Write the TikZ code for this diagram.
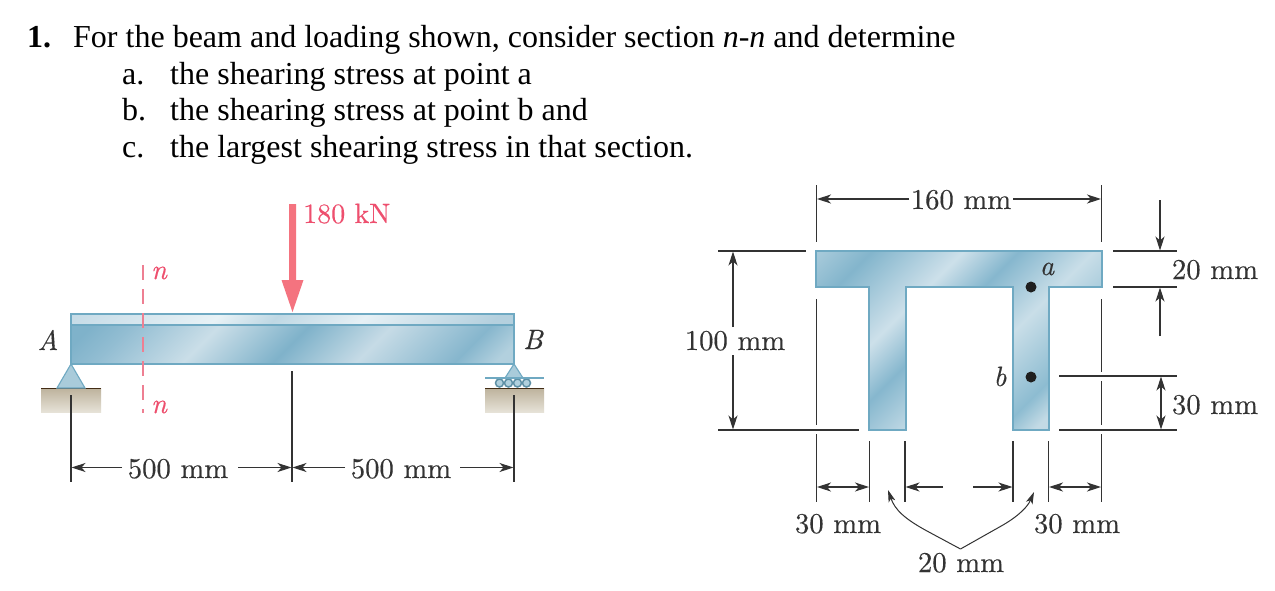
\documentclass[tikz,border=0pt]{standalone}
\usepackage{fontspec}
\usetikzlibrary{arrows.meta}
\newfontfamily\probfont{Liberation Serif}
\newfontfamily\dimfont[Extension=.otf,UprightFont=lmroman10-regular,ItalicFont=lmroman10-italic,FakeBold=0.3]{lmroman10-regular}
\definecolor{inkc}{HTML}{333333}
\definecolor{edgec}{HTML}{6FA9C2}
\definecolor{redc}{HTML}{F4737F}
\definecolor{redt}{HTML}{EE4F6E}
\definecolor{pinkc}{HTML}{EE7F92}
\definecolor{sa}{HTML}{7FB2CA}\definecolor{sb}{HTML}{92BDD2}\definecolor{sc}{HTML}{CADEE8}\definecolor{sd}{HTML}{C6DBE6}\definecolor{se}{HTML}{86B6CD}\definecolor{sf}{HTML}{B2D0DE}
\definecolor{ta}{HTML}{C2D9E5}\definecolor{tb}{HTML}{E8F2F6}\definecolor{tc}{HTML}{BFD8E4}\definecolor{td}{HTML}{E6F0F5}\definecolor{te}{HTML}{B4D0DE}
\definecolor{ua}{HTML}{A9CBDB}\definecolor{ub}{HTML}{83B5CC}\definecolor{uc}{HTML}{CDE0EA}\definecolor{ud}{HTML}{86B7CE}\definecolor{ue}{HTML}{C9DEE8}\definecolor{uf}{HTML}{8DBCD1}\definecolor{ug}{HTML}{C3DAE5}
\definecolor{ga}{HTML}{E6E2D7}\definecolor{gb}{HTML}{BDB29C}
\pgfdeclarehorizontalshading{steelbeam}{100bp}{color(0bp)=(sa);color(34.8bp)=(sa);color(37.6bp)=(sb);color(43.9bp)=(sc);color(50.3bp)=(sa);color(56.2bp)=(sd);color(63.2bp)=(se);color(66.1bp)=(sf);color(100bp)=(sf)}
\pgfdeclarehorizontalshading{steelstrip}{100bp}{color(0bp)=(ta);color(33bp)=(ta);color(44.5bp)=(tb);color(48.7bp)=(tc);color(55bp)=(td);color(64.4bp)=(te);color(100bp)=(te)}
\pgfdeclarehorizontalshading{steeltee}{100bp}{color(0bp)=(ua);color(27.8bp)=(ua);color(33.6bp)=(ub);color(43.2bp)=(uc);color(49bp)=(ud);color(56.8bp)=(ue);color(65.7bp)=(uf);color(69.2bp)=(ug);color(100bp)=(ug)}
\pgfdeclareverticalshading{groundsh}{100bp}{color(0bp)=(ga);color(25bp)=(ga);color(75bp)=(gb);color(100bp)=(gb)}
\tikzset{
  x=1pt,y=-1pt,
  prob/.style={inner sep=0pt,anchor=base west,font=\probfont\fontsize{32}{38}\selectfont,text=black},
  dimtext/.style={inner sep=0pt,anchor=base,font=\dimfont\fontsize{28.7}{34}\selectfont,text=inkc},
  pointlabel/.style={inner sep=0pt,anchor=base,font=\dimfont\itshape\fontsize{28}{34}\selectfont,text=inkc},
  sectlabel/.style={inner sep=0pt,anchor=base,font=\dimfont\itshape\fontsize{28}{34}\selectfont,text=redt},
  ext/.style={draw=inkc,line width=1.1pt},
  dimone/.style={draw=inkc,line width=1.1pt,-{Stealth[length=14pt,width=9pt,inset=4pt]}},
  dimtwo/.style={draw=inkc,line width=1.1pt,{Stealth[length=14pt,width=9pt,inset=4pt]}-{Stealth[length=14pt,width=9pt,inset=4pt]}},
  curvearrow/.style={draw=inkc,line width=1pt,-{Stealth[length=12pt,width=7pt,inset=3pt]}},
  outline/.style={draw=edgec,line width=1.2pt},
  ground/.style={shading=groundsh},
  pin/.style={fill=edgec!60!white,draw=edgec,line width=1.1pt},
  roller/.style={fill=edgec!55!white,draw=edgec!85!black,line width=1.5pt},
  dot/.style={circle,fill=black!88,inner sep=0pt,minimum size=11pt},
}
\begin{document}
\begin{tikzpicture}
\useasboundingbox (0,0) rectangle (1275,590);
\fill[white] (0,0) rectangle (1275,590);
% problem text
\node[prob,font=\probfont\bfseries\fontsize{32}{38}\selectfont] (q1) at (27,47) {1.};
\node[prob] (q0) at (73,47) {For the beam and loading shown, consider section \textit{n-n} and determine};
\node[prob] (qal) at (122,84) {a.};
\node[prob] (qa) at (170,84) {the shearing stress at point a};
\node[prob] (qbl) at (122,120) {b.};
\node[prob] (qb) at (170,120) {the shearing stress at point b and};
\node[prob] (qcl) at (122,157) {c.};
\node[prob] (qc) at (170,157) {the largest shearing stress in that section.};
% grounds
\shade[ground] (41,388) rectangle (101,412);
\draw[draw=black!65!brown,line width=1pt] (41,388) -- (101,388);
\shade[ground] (485,388) rectangle (544,412);
\draw[draw=black!65!brown,line width=1pt] (485,388) -- (544,388);
% supports
\draw[pin] (71,364) -- (57,388) -- (85,388) -- cycle;
\foreach \cx in {499.5,508.5,517.5,526.5}{\draw[roller] (\cx,383) circle[radius=4];}
\draw[pin] (514,364) -- (505,378) -- (523,378) -- cycle;
\draw[draw=edgec,line width=1.1pt] (485,378) -- (544,378);
% beam
\begin{scope}
\clip (71,325) rectangle (514,364);
\shade[shading=steelbeam,shading angle=-45] (42,89) rectangle (542,589);
\end{scope}
\begin{scope}
\clip (71,314) rectangle (514,325);
\shade[shading=steelstrip,shading angle=-45] (42,70) rectangle (542,570);
\end{scope}
\draw[outline] (71,314) rectangle (514,364);
\draw[outline] (71,325) -- (514,325);
% force
\coordinate (ftop) at (292.5,204);
\coordinate (fbot) at (292.5,312);
\fill[redc] (289,204) -- (296,204) -- (296,280) -- (303.5,280) -- (292.5,312) -- (281.5,280) -- (289,280) -- cycle;
\node[inner sep=0pt,anchor=base west,font=\dimfont\fontsize{28}{34}\selectfont,text=redt] (force) at (303,223) {180 kN};
% section n-n
\coordinate (nt) at (143,265);
\coordinate (nb) at (143,413);
\draw[draw=pinkc,line width=1.1pt,dash pattern=on 15pt off 9pt] (nt) -- (nb);
\node[sectlabel] (n1) at (159,279) {n};
\node[sectlabel] (n2) at (159,413) {n};
% point labels
\node[pointlabel] (A) at (48,350) {A};
\node[pointlabel] (B) at (533,349) {B};
% beam dims
\coordinate (ea1) at (71,395); \coordinate (ea2) at (71,482);
\coordinate (em1) at (292,371); \coordinate (em2) at (292,482);
\coordinate (eb1) at (514,395); \coordinate (eb2) at (514,482);
\draw[ext] (ea1) -- (ea2);
\draw[ext] (em1) -- (em2);
\draw[ext] (eb1) -- (eb2);
\node[dimtext] (d1) at (178,478) {500 mm};
\node[dimtext] (d2) at (401,478) {500 mm};
\coordinate (d1l) at (122,467.5); \coordinate (d1la) at (71.5,467.5);
\coordinate (d1r) at (238,467.5); \coordinate (d1ra) at (291.5,467.5);
\coordinate (d2l) at (345,467.5); \coordinate (d2la) at (292.5,467.5);
\coordinate (d2r) at (460,467.5); \coordinate (d2ra) at (513.5,467.5);
\draw[dimone] (d1l) -- (d1la);
\draw[dimone] (d1r) -- (d1ra);
\draw[dimone] (d2l) -- (d2la);
\draw[dimone] (d2r) -- (d2ra);
% T section
\begin{scope}
\clip (816,251) -- (1102,251) -- (1102,287) -- (1049,287) -- (1049,430) -- (1013,430) -- (1013,287) -- (906,287) -- (906,430) -- (869,430) -- (869,287) -- (816,287) -- cycle;
\shade[shading=steeltee,shading angle=-45] (780,160) rectangle (1120,500);
\end{scope}
\draw[outline] (816,251) -- (1102,251) -- (1102,287) -- (1049,287) -- (1049,430) -- (1013,430) -- (1013,287) -- (906,287) -- (906,430) -- (869,430) -- (869,287) -- (816,287) -- cycle;
\node[dot] (pa) at (1031,287) {};
\node[dot] (pb) at (1031,377) {};
\node[pointlabel] (la) at (1047,275) {a};
\node[pointlabel] (lb) at (1000,386) {b};
% T ext lines
\draw[ext] (816.5,185) coordinate (l1) -- (816.5,242) coordinate (l2);
\draw[ext] (816.5,299) coordinate (l3) -- (816.5,425) coordinate (l4);
\draw[ext] (816.5,434) coordinate (l5) -- (816.5,502) coordinate (l6);
\draw[ext] (1101.5,185) coordinate (r1) -- (1101.5,242) coordinate (r2);
\draw[ext] (1101.5,299) coordinate (r3) -- (1101.5,372) coordinate (r4);
\draw[ext] (1101.5,381) coordinate (r5) -- (1101.5,425) coordinate (r6);
\draw[ext] (1101.5,434) coordinate (r7) -- (1101.5,502) coordinate (r8);
\draw[ext] (718,251) coordinate (h1) -- (806,251) coordinate (h2);
\draw[ext] (718,430) coordinate (h3) -- (859,430) coordinate (h4);
\draw[ext] (1113,251) coordinate (h5) -- (1177,251) coordinate (h6);
\draw[ext] (1113,287) coordinate (h7) -- (1177,287) coordinate (h8);
\draw[ext] (1059,376) coordinate (h9) -- (1177,376) coordinate (h10);
\draw[ext] (1059,430) coordinate (h11) -- (1177,430) coordinate (h12);
\draw[ext] (869.5,441) coordinate (w1) -- (869.5,502) coordinate (w2);
\draw[ext] (905,441) coordinate (w3) -- (905,502) coordinate (w4);
\draw[ext] (1013,441) coordinate (w5) -- (1013,502) coordinate (w6);
\draw[ext] (1048.7,441) coordinate (w7) -- (1048.7,502) coordinate (w8);
% T dims
\node[dimtext] (t160) at (961,209) {160 mm};
\coordinate (a1) at (909,199); \coordinate (a1e) at (817,199);
\coordinate (a2) at (1013,199); \coordinate (a2e) at (1101,199);
\draw[dimone] (a1) -- (a1e);
\draw[dimone] (a2) -- (a2e);
\node[dimtext] (t100) at (735,350) {100 mm};
\coordinate (b1) at (733,327); \coordinate (b1e) at (733,251.5);
\coordinate (b2) at (733,355); \coordinate (b2e) at (733,429.5);
\draw[dimone] (b1) -- (b1e);
\draw[dimone] (b2) -- (b2e);
\node[dimtext] (t20r) at (1215,279) {20 mm};
\coordinate (c1) at (1160,200); \coordinate (c1e) at (1160,250.5);
\coordinate (c2) at (1160,336); \coordinate (c2e) at (1160,287.5);
\draw[dimone] (c1) -- (c1e);
\draw[dimone] (c2) -- (c2e);
\node[dimtext] (t30r) at (1215,414) {30 mm};
\coordinate (c3) at (1161,376.5); \coordinate (c3e) at (1161,429.5);
\draw[dimtwo] (c3) -- (c3e);
\node[dimtext] (t30a) at (838,533) {30 mm};
\node[dimtext] (t30b) at (1077,533) {30 mm};
\node[dimtext] (t20) at (961,572) {20 mm};
\coordinate (e1) at (817,487); \coordinate (e1e) at (869,487);
\draw[dimtwo] (e1) -- (e1e);
\coordinate (e2) at (943,487); \coordinate (e2e) at (905.5,487);
\draw[dimone] (e2) -- (e2e);
\coordinate (e3) at (973,487); \coordinate (e3e) at (1012.5,487);
\draw[dimone] (e3) -- (e3e);
\coordinate (e4) at (1049,487); \coordinate (e4e) at (1101,487);
\draw[dimtwo] (e4) -- (e4e);
% curved leaders
\coordinate (apex) at (960.5,549);
\coordinate (tipl) at (888,490);
\coordinate (tipr) at (1034,492);
\draw[curvearrow] (apex) -- (927,531) .. controls (905,519) and (895,510) .. (tipl);
\draw[curvearrow] (apex) -- (1003,525) .. controls (1020,515) and (1028,506) .. (tipr);
\end{tikzpicture}
\end{document}
